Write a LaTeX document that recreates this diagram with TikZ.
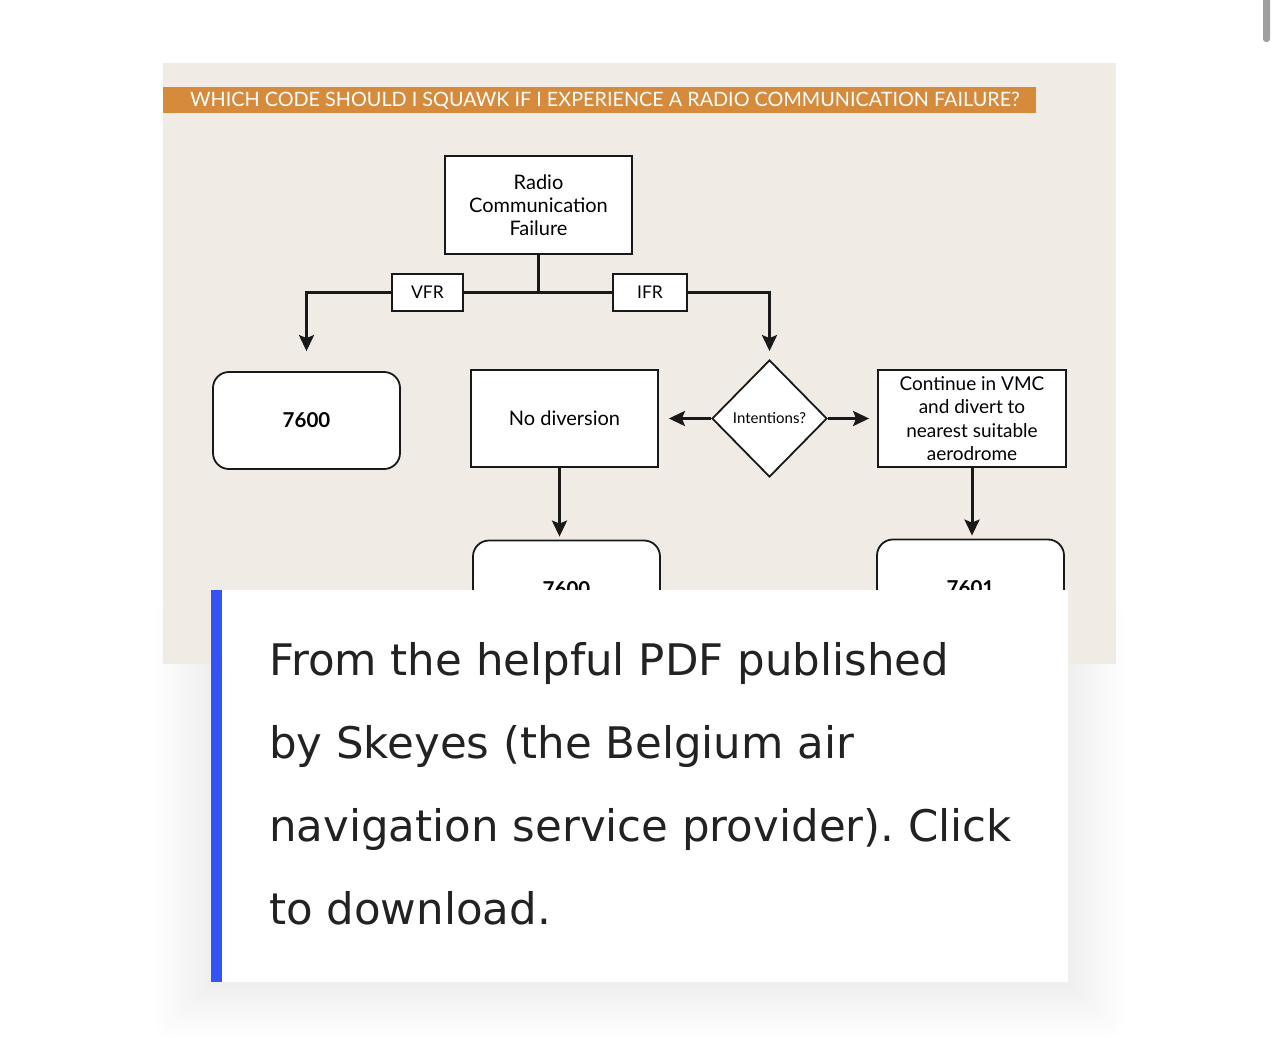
\documentclass[tikz,border=0pt]{standalone}
\usepackage{fontspec}
\setmainfont{Lato}
\newfontfamily\capfont{DejaVu Sans}
\usetikzlibrary{shapes.geometric,arrows.meta,calc}
\definecolor{beige}{HTML}{F0EBE5}
\definecolor{titleorange}{HTML}{D68A3C}
\definecolor{barblue}{HTML}{3452F5}
\definecolor{captext}{HTML}{222222}
\tikzset{
  box/.style={draw=black!90, line width=1.8pt, fill=white, minimum width=187pt, minimum height=97pt, inner sep=2pt, align=center, font=\fontsize{20}{23}\selectfont},
  codebox/.style={box, rounded corners=16pt, font=\fontsize{20.5}{23}\selectfont\bfseries},
  tagbox/.style={draw=black!90, line width=1.8pt, fill=white, minimum height=37pt, inner sep=2pt, font=\fontsize{17.5}{20}\selectfont},
  decision/.style={diamond, draw=black!90, line width=1.8pt, fill=white, minimum width=115pt, minimum height=117pt, inner sep=0pt, font=\fontsize{15}{17}\selectfont},
  conn/.style={draw=black!90, line width=3pt},
  arr/.style={conn, -{Stealth[length=16pt,width=15pt,inset=3pt]}},
}
\begin{document}
\frenchspacing
\begin{tikzpicture}[x=1pt,y=-1pt]
\useasboundingbox (0,0) rectangle (1280,1038);
\fill[white] (0,0) rectangle (1280,1038);
% scrollbar
\fill[gray!75, rounded corners=3pt] (1263,-6) rectangle (1270,42);
% card shadow (under the panel)
\foreach \i in {1,...,16} {
  \fill[black, opacity=0.005, rounded corners=\i pt] ($(211,600)+(-3.5*\i,0)$) rectangle ($(1068,982)+(3.5*\i,3.5*\i)$);
}
% panel
\fill[beige] (163,63) rectangle (1116,664);
\fill[titleorange] (163,87) rectangle (1036,113);
\node[anchor=west, text=white, inner sep=0pt, font=\fontsize{19.8}{22}\selectfont] (title) at (190,100.5) {WHICH CODE SHOULD I SQUAWK IF I EXPERIENCE A RADIO COMMUNICATION FAILURE?};

% nodes
\node[box, minimum height=98pt] (rcf) at (538.5,205) {Radio\\Communication\\Failure};
\node[tagbox, minimum width=71pt] (vfr) at (427.5,292.5) {VFR};
\node[tagbox, minimum width=74pt] (ifr) at (650,292.5) {IFR};
\node[codebox] (c7600a) at (306.5,420.5) {7600};
\node[box] (nodiv) at (564.5,418.5) {No diversion};
\node[decision] (intent) at (769.5,418.5) {Intentions?};
\node[box, minimum width=188pt, font=\fontsize{19}{23.3}\selectfont] (cont) at (972,418.5) {Continue in VMC\\and divert to\\nearest suitable\\aerodrome};
\node[codebox] (c7600b) at (566.5,589) {7600};
\node[codebox] (c7601) at (970.5,588) {7601};

% connectors
\draw[conn] (rcf.south) -- (rcf.south |- vfr.east);
\draw[conn] (vfr.east) -- (ifr.west);
\draw[arr, shorten >=20pt] (vfr.west) -| (c7600a.north);
\draw[arr, shorten >=8pt] (ifr.east) -| (intent.north);
\draw[arr, shorten >=10pt] (intent.west) -- (nodiv.east);
\draw[arr, shorten >=8pt] (intent.east) -- (cont.west);
\draw[arr, shorten >=3pt] ([xshift=-5pt]nodiv.south) -- ([xshift=-5pt]nodiv.south |- c7600b.north);
\draw[arr, shorten >=3pt] (cont.south) -- (cont.south |- c7601.north);

% card
\fill[white] (211,590) rectangle (1068,982);
\fill[barblue] (211,590) rectangle (222,982);
\node[anchor=north west, text=captext, inner sep=0pt, align=left, font=\capfont\fontsize{43.5}{83}\selectfont] (caption) at (269,642)
  {From the helpful PDF published\\by Skeyes (the Belgium air\\navigation service provider). Click\\to download.};
\end{tikzpicture}
\end{document}
